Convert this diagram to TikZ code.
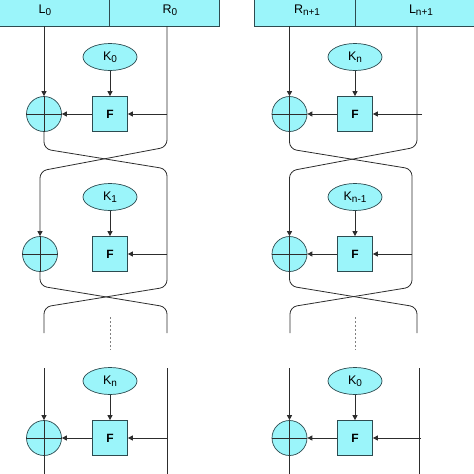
\documentclass[tikz,border=0pt]{standalone}
\usepackage{fontspec}
\setmainfont{Liberation Sans}
\usetikzlibrary{shapes.geometric,arrows.meta}
\definecolor{cfill}{RGB}{155,245,250}
\definecolor{cedge}{RGB}{45,75,80}
\definecolor{cline}{RGB}{45,45,45}
\tikzset{
  x=1pt,y=-1pt,
  ln/.style={draw=cline,line width=0.8pt},
  arr/.style={ln,-{Triangle[length=5pt,width=5pt]}},
  cross/.style={ln,rounded corners=7pt},
  xorn/.style={circle,draw=cedge,fill=cfill,line width=0.7pt,minimum size=35pt,inner sep=0pt},
  xbar/.style={draw=cline,line width=0.7pt},
  fbox/.style={rectangle,draw=cedge,fill=cfill,line width=0.7pt,minimum size=35pt,inner sep=0pt,font=\fontsize{12}{13}\selectfont\bfseries},
  keyn/.style={ellipse,draw=cedge,fill=cfill,line width=0.7pt,minimum width=54pt,minimum height=27pt,inner sep=0pt,font=\fontsize{12.5}{13}\selectfont},
  cell/.style={rectangle,draw=cedge,fill=cfill,line width=0.8pt},
  lab/.style={font=\fontsize{12.5}{13}\selectfont,inner sep=0pt},
  dots/.style={draw=gray,line width=0.8pt,dash pattern=on 2pt off 2pt},
}
\newcommand{\sbs}[1]{\raisebox{-0.35ex}{\fontsize{10}{10}\selectfont #1}}
\newcommand{\xorbars}[1]{\draw[xbar] (#1.north) -- (#1.south) (#1.west) -- (#1.east);}
\begin{document}
\begin{tikzpicture}
\useasboundingbox (0,0) rectangle (474,474);
% top boxes
\draw[cell] (-10,-10) rectangle (109,26);
\draw[cell] (109,-10) rectangle (219,26);
\draw[cell] (254,-10) rectangle (355,26);
\draw[cell] (355,-10) rectangle (484,26);
\node[lab] (tL0) at (45,10) {L\sbs{0}};
\node[lab] (tR0) at (170,10) {R\sbs{0}};
\node[lab] (tRn) at (307,10) {R\sbs{n+1}};
\node[lab] (tLn) at (421,10) {L\sbs{n+1}};
\coordinate (a1) at (44,26);
\coordinate (b1) at (167,26);
\coordinate (a1r) at (289.5,26);
\coordinate (b1r) at (417,26);

% ===== left diagram =====
% round 1
\node[xorn] (x1) at (44,114) {};
\xorbars{x1}
\node[fbox] (f1) at (110,114) {F};
\node[keyn] (k1) at (110,57) {K\sbs{0}};
\coordinate (h1) at (167,114);
\draw[arr] (a1) -- (x1);
\draw[arr] (k1) -- (f1);
\draw[arr] (h1) -- (f1);
\draw[arr] (f1) -- (x1);
% round 2
\node[xorn] (x2) at (40,254) {};
\xorbars{x2}
\node[fbox] (f2) at (110,254) {F};
\node[keyn] (k2) at (110,197) {K\sbs{1}};
\coordinate (h2) at (167,254);
\draw[arr] (k2) -- (f2);
\draw[arr] (h2) -- (f2);
% crossings
\coordinate (e1) at (44,333);
\coordinate (e2) at (167,333);
\draw[cross] (x1.south) -- (44,149) -- (167,169) -- (167,287) -- (44,307) -- (e1);
\draw[cross,-{Triangle[length=5pt,width=5pt]}] (b1) -- (167,147) -- (40,171) -- (x2.north);
\draw[cross] (x2.south) -- (40,286) -- (167,307) -- (e2);
% dots
\coordinate (d1) at (110,317);
\coordinate (d2) at (110,350);
\draw[dots] (d1) -- (d2);
% last round
\node[xorn] (x4) at (44,438) {};
\xorbars{x4}
\node[fbox] (f4) at (110,438) {F};
\node[keyn] (k4) at (110,381) {K\sbs{n}};
\coordinate (s4) at (44,368);
\coordinate (t4) at (167,368);
\coordinate (h4) at (167,438);
\coordinate (u4) at (44,480);
\coordinate (v4) at (167,480);
\draw[arr] (s4) -- (x4);
\draw[ln] (x4) -- (u4);
\draw[ln] (t4) -- (v4);
\draw[arr] (k4) -- (f4);
\draw[arr] (h4) -- (f4);
\draw[arr] (f4) -- (x4);

% ===== right diagram =====
\node[xorn] (x1r) at (289.5,114) {};
\xorbars{x1r}
\node[fbox] (f1r) at (355,114) {F};
\node[keyn] (k1r) at (355,57) {K\sbs{n}};
\coordinate (h1r) at (422,114);
\draw[arr] (a1r) -- (x1r);
\draw[arr] (k1r) -- (f1r);
\draw[arr] (h1r) -- (f1r);
\draw[arr] (f1r) -- (x1r);
\node[xorn] (x2r) at (289.5,254) {};
\xorbars{x2r}
\node[fbox] (f2r) at (355,254) {F};
\node[keyn] (k2r) at (355,197) {K\sbs{n-1}};
\coordinate (h2r) at (412,254);
\draw[arr] (k2r) -- (f2r);
\draw[arr] (h2r) -- (f2r);
\draw[arr] (f2r) -- (x2r);
\coordinate (e1r) at (290,333);
\coordinate (e2r) at (417,333);
\draw[cross] (x1r.south) -- (289.5,149) -- (412,169) -- (412,287) -- (290,307) -- (e1r);
\draw[cross,-{Triangle[length=5pt,width=5pt]}] (b1r) -- (417,147) -- (289.5,171) -- (x2r.north);
\draw[cross] (x2r.south) -- (289.5,286) -- (417,307) -- (e2r);
\coordinate (d1r) at (355,317);
\coordinate (d2r) at (355,350);
\draw[dots] (d1r) -- (d2r);
\node[xorn] (x4r) at (289.5,438) {};
\xorbars{x4r}
\node[fbox] (f4r) at (355,438) {F};
\node[keyn] (k4r) at (355,381) {K\sbs{0}};
\coordinate (s4r) at (289.5,368);
\coordinate (t4r) at (419,368);
\coordinate (h4r) at (421,438);
\coordinate (u4r) at (289.5,480);
\coordinate (v4r) at (419,480);
\draw[arr] (s4r) -- (x4r);
\draw[ln] (x4r) -- (u4r);
\draw[ln] (t4r) -- (v4r);
\draw[arr] (k4r) -- (f4r);
\draw[arr] (h4r) -- (f4r);
\draw[arr] (f4r) -- (x4r);
\end{tikzpicture}
\end{document}
